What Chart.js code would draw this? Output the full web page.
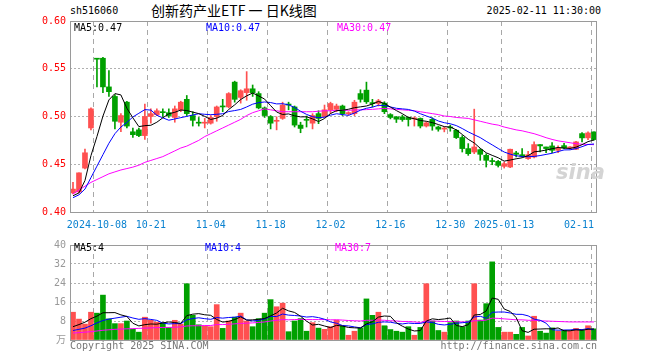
<!DOCTYPE html>
<html>
<head>
<meta charset="utf-8">
<script src="https://cdn.jsdelivr.net/npm/chart.js@4.4.1/dist/chart.umd.min.js"></script>
<style>
  body { margin: 0; background: #fff; width: 660px; height: 360px; position: relative; overflow: hidden;
         font-family: "DejaVu Sans Mono", monospace; font-size: 10px; }
  .txt { position: absolute; white-space: nowrap; line-height: 12px; }
  canvas { position: absolute; left: 0; }
</style>
</head>
<body>
<div class="txt" style="left:70px;top:5px;color:#000">sh516060</div>
<div class="txt" style="left:151px;top:2px;font:14px 'Noto Sans CJK SC';line-height:16px;color:#000">创新药产业ETF 一 日K线图</div>
<div class="txt" style="right:59px;top:5px;color:#000">2025-02-11 11:30:00</div>

<canvas id="priceChart" width="660" height="235" style="top:0"></canvas>
<canvas id="volumeChart" width="660" height="125" style="top:235px"></canvas>

<div class="txt" style="left:74px;top:22px;color:#000">MA5:0.47</div>
<div class="txt" style="left:206px;top:22px;color:#0000ff">MA10:0.47</div>
<div class="txt" style="left:337px;top:22px;color:#ff00ff">MA30:0.47</div>
<div class="txt" style="left:74px;top:242px;color:#000">MA5:4</div>
<div class="txt" style="left:205px;top:242px;color:#0000ff">MA10:4</div>
<div class="txt" style="left:335px;top:242px;color:#ff00ff">MA30:7</div>
<div class="txt" style="left:556px;top:160px;font:italic bold 21px 'DejaVu Sans';color:#d4d4d4;line-height:24px">sina</div>
<div class="txt" style="left:70px;top:340px;color:#777">Copyright 2025 SINA.COM</div>
<div class="txt" style="right:63px;top:340px;color:#777">http://finance.sina.com.cn</div>

<script>
// Trading days shown on the chart
const dates = [
  '2024-09-25','2024-09-26','2024-09-27','2024-09-30',
  '2024-10-08','2024-10-09','2024-10-10','2024-10-11','2024-10-14','2024-10-15','2024-10-16','2024-10-17','2024-10-18',
  '2024-10-21','2024-10-22','2024-10-23','2024-10-24','2024-10-25','2024-10-28','2024-10-29','2024-10-30','2024-10-31',
  '2024-11-01','2024-11-04','2024-11-05','2024-11-06','2024-11-07','2024-11-08','2024-11-11','2024-11-12','2024-11-13',
  '2024-11-14','2024-11-15','2024-11-18','2024-11-19','2024-11-20','2024-11-21','2024-11-22','2024-11-25','2024-11-26',
  '2024-11-27','2024-11-28','2024-11-29',
  '2024-12-02','2024-12-03','2024-12-04','2024-12-05','2024-12-06','2024-12-09','2024-12-10','2024-12-11','2024-12-12',
  '2024-12-13','2024-12-16','2024-12-17','2024-12-18','2024-12-19','2024-12-20','2024-12-23','2024-12-24','2024-12-25',
  '2024-12-26','2024-12-27','2024-12-30','2024-12-31',
  '2025-01-02','2025-01-03','2025-01-06','2025-01-07','2025-01-08','2025-01-09','2025-01-10','2025-01-13','2025-01-14',
  '2025-01-15','2025-01-16','2025-01-17','2025-01-20','2025-01-21','2025-01-22','2025-01-23','2025-01-24','2025-01-27',
  '2025-02-05','2025-02-06','2025-02-07','2025-02-10','2025-02-11'
];

// Dates that get a label and a dashed grid line
const tickDates = ['2024-10-08','2024-10-21','2024-11-04','2024-11-18','2024-12-02','2024-12-16','2024-12-30','2025-01-13','2025-02-11'];
const tickTexts = ['2024-10-08','10-21','11-04','11-18','12-02','12-16','12-30','2025-01-13','02-11     '];

// Daily OHLC
const opens = [
  0.420,0.421,0.446,0.488,0.5605,0.561,0.531,0.521,0.494,0.515,
  0.484,0.486,0.480,0.500,0.502,0.505,0.504,0.499,0.507,0.518,
  0.501,0.4935,0.493,0.493,0.500,0.5105,0.510,0.536,0.520,0.525,
  0.529,0.524,0.509,0.500,0.495,0.498,0.5125,0.510,0.491,0.4965,
  0.493,0.503,0.500,0.507,0.5075,0.511,0.503,0.503,0.524,0.5276,
  0.514,0.5136,0.514,0.502,0.4996,0.4996,0.499,0.4975,0.498,0.490,
  0.497,0.489,0.4868,0.4885,0.4856,0.478,0.4664,0.4628,0.4653,0.4593,
  0.4533,0.453,0.4478,0.4471,0.4618,0.460,0.4559,0.4576,0.4706,0.4681,
  0.4692,0.4646,0.4695,0.4671,0.4657,0.4821,0.4776,0.4839
];
const highs = [
  0.431,0.441,0.466,0.509,0.561,0.562,0.548,0.523,0.503,0.516,
  0.488,0.488,0.513,0.508,0.508,0.508,0.508,0.511,0.516,0.522,
  0.505,0.499,0.498,0.501,0.511,0.518,0.525,0.537,0.528,0.547,
  0.533,0.526,0.510,0.501,0.4997,0.515,0.515,0.511,0.494,0.5005,
  0.503,0.506,0.512,0.515,0.513,0.512,0.505,0.517,0.528,0.536,
  0.518,0.518,0.5155,0.503,0.500,0.5014,0.4996,0.4996,0.4985,0.4944,
  0.4986,0.490,0.489,0.491,0.4863,0.480,0.4716,0.5077,0.4663,0.461,
  0.4565,0.454,0.4523,0.466,0.4636,0.4664,0.4636,0.4734,0.4706,0.4681,
  0.4727,0.4692,0.472,0.4685,0.474,0.4832,0.4839,0.4839
];
const lows = [
  0.419,0.420,0.445,0.486,0.531,0.525,0.521,0.487,0.484,0.488,
  0.478,0.479,0.476,0.493,0.501,0.500,0.499,0.494,0.505,0.501,
  0.490,0.490,0.488,0.492,0.495,0.505,0.509,0.515,0.514,0.517,
  0.521,0.508,0.499,0.487,0.486,0.497,0.507,0.489,0.483,0.489,
  0.487,0.4925,0.499,0.503,0.505,0.501,0.5015,0.501,0.515,0.5136,
  0.510,0.511,0.503,0.4975,0.4937,0.495,0.490,0.490,0.488,0.489,
  0.4856,0.4846,0.4839,0.4846,0.4769,0.4628,0.4593,0.4611,0.4541,0.4471,
  0.4495,0.4471,0.446,0.4464,0.4576,0.4576,0.455,0.4566,0.4629,0.4622,
  0.4622,0.4622,0.4664,0.4657,0.4653,0.4734,0.4758,0.4751
];
const closes = [
  0.424,0.441,0.462,0.508,0.560,0.531,0.526,0.495,0.501,0.490,
  0.481,0.480,0.500,0.503,0.506,0.504,0.501,0.508,0.515,0.503,
  0.496,0.493,0.4935,0.499,0.510,0.510,0.524,0.518,0.527,0.529,
  0.525,0.509,0.501,0.493,0.4955,0.512,0.512,0.491,0.4875,0.496,
  0.501,0.498,0.507,0.5136,0.511,0.503,0.5035,0.515,0.518,0.5154,
  0.5135,0.5164,0.505,0.499,0.4972,0.4968,0.4968,0.498,0.490,0.4933,
  0.490,0.4867,0.4872,0.488,0.4779,0.4664,0.4611,0.4681,0.4604,0.4541,
  0.4528,0.4488,0.4506,0.4657,0.4604,0.4583,0.460,0.4706,0.4692,0.4664,
  0.4646,0.4671,0.4671,0.4674,0.4734,0.4776,0.4828,0.4758
];

// Price moving averages as drawn
const priceMa5 = [
  0.417,0.420,0.433,0.459,0.479,0.5004,0.5174,0.524,0.5226,0.5086,
  0.4986,0.4894,0.4904,0.4908,0.494,0.4986,0.5028,0.5044,0.5068,0.5062,
  0.5046,0.503,0.5001,0.4969,0.4983,0.5011,0.5073,0.5122,0.5178,0.5216,
  0.5246,0.5216,0.5182,0.5114,0.5047,0.5021,0.5027,0.5007,0.4996,0.4997,
  0.4975,0.4947,0.4979,0.5031,0.5061,0.5065,0.5076,0.5092,0.5101,0.511,
  0.5131,0.5157,0.5137,0.5099,0.5062,0.5029,0.499,0.4976,0.4958,0.495,
  0.4936,0.4916,0.4894,0.489,0.486,0.4812,0.4761,0.4723,0.4668,0.462,
  0.4593,0.4568,0.4533,0.4544,0.4557,0.4568,0.459,0.463,0.4637,0.4649,
  0.4662,0.4676,0.4669,0.4665,0.4679,0.4705,0.4737,0.4754
];
const priceMa10 = [
  0.415,0.418,0.424,0.436,0.448,0.460,0.472,0.482,0.489,0.4938,
  0.4995,0.5034,0.5072,0.5067,0.5013,0.4986,0.4961,0.4974,0.4988,0.5001,
  0.5016,0.5029,0.5023,0.5019,0.5023,0.5029,0.5052,0.5062,0.5074,0.510,
  0.5129,0.5145,0.5152,0.5146,0.5132,0.5134,0.5122,0.5095,0.5055,0.5022,
  0.4998,0.4987,0.4993,0.5014,0.5029,0.502,0.5012,0.5036,0.5066,0.5086,
  0.5098,0.5117,0.5115,0.510,0.5086,0.508,0.5074,0.5057,0.5029,0.5006,
  0.4983,0.4953,0.4935,0.4924,0.4905,0.4874,0.4839,0.4809,0.4779,0.474,
  0.4703,0.4665,0.4628,0.4606,0.4589,0.4581,0.4579,0.4582,0.4591,0.4603,
  0.4615,0.4633,0.465,0.4651,0.4664,0.4684,0.4707,0.4712
];
const priceMa30 = [
  0.419,0.423,0.427,0.431,0.434,0.437,0.440,0.442,0.444,0.4455,
  0.447,0.449,0.452,0.454,0.456,0.458,0.461,0.464,0.467,0.469,
  0.472,0.475,0.479,0.482,0.485,0.488,0.491,0.494,0.497,0.501,
  0.504,0.506,0.508,0.507,0.506,0.505,0.505,0.505,0.505,0.505,
  0.505,0.5055,0.506,0.506,0.5065,0.5065,0.5065,0.5068,0.507,0.5072,
  0.5075,0.508,0.5085,0.508,0.5075,0.507,0.5065,0.506,0.505,0.504,
  0.503,0.502,0.5005,0.500,0.499,0.4985,0.498,0.4965,0.495,0.4935,
  0.492,0.491,0.489,0.4875,0.486,0.485,0.4835,0.482,0.480,0.4778,
  0.476,0.4745,0.4735,0.4725,0.4715,0.471,0.4707,0.4705
];

// Volume (万手) and its moving averages
const volumes = [
  11.7,8.8,6.7,11.7,11.3,18.9,8.9,6.9,6.9,8.0,
  4.5,3.3,9.6,8.3,7.5,7.3,5.3,8.3,6.7,23.7,
  10.4,6.4,5.9,5.6,14.9,4.9,8.0,9.6,11.3,8.0,
  5.6,9.0,11.3,17.0,14.0,15.5,3.5,8.0,9.0,3.7,
  7.3,5.0,4.5,5.6,8.4,5.9,2.0,3.7,5.1,17.3,
  10.4,11.7,6.0,4.4,3.7,3.3,5.6,2.0,5.3,23.7,
  8.0,4.0,3.3,7.3,8.0,5.6,8.0,23.7,8.4,15.3,
  32.9,5.3,3.3,3.3,2.4,5.3,1.7,10.0,3.7,2.9,
  5.1,3.7,4.0,3.7,4.9,4.0,6.0,4.7
];
const volMa5 = [
  5.6,6.5,7.5,9.0,10.04,11.48,11.5,11.54,10.58,9.92,
  7.04,5.92,6.46,6.74,6.64,7.2,7.6,7.34,7.02,10.26,
  10.88,11.1,10.62,10.4,8.64,7.54,7.86,8.6,9.74,8.36,
  8.5,8.7,9.04,10.18,11.38,13.36,12.26,11.6,10,7.94,
  6.3,6.6,5.9,5.22,6.16,5.88,5.28,5.12,5.02,6.8,
  7.7,9.64,10.1,9.96,7.24,5.82,4.6,3.8,3.98,7.98,
  8.92,8.6,8.86,9.26,6.12,5.64,6.44,10.52,10.74,12.2,
  17.66,17.12,13.04,12.02,9.44,3.92,3.2,4.54,4.62,4.72,
  4.68,5.08,3.88,3.88,4.28,4.06,4.52,4.66
];
const volMa10 = [
  4.0,4.5,5.0,6.0,7.2,8.2,8.8,9.2,9.6,9.98,
  9.26,8.71,9.0,8.66,8.28,7.12,6.76,6.9,6.88,8.45,
  9.04,9.35,8.98,8.71,9.45,9.21,9.48,9.61,10.07,8.5,
  8.02,8.28,8.82,9.96,9.87,10.93,10.48,10.32,10.09,9.66,
  9.83,9.43,8.75,7.61,7.05,6.09,5.94,5.51,5.12,6.48,
  6.79,7.46,7.61,7.49,7.02,6.76,7.12,6.95,6.97,7.61,
  7.37,6.6,6.33,6.62,7.05,7.28,7.52,9.69,10.0,9.16,
  11.65,11.78,11.78,11.38,10.82,10.79,10.16,8.79,8.32,7.08,
  4.3,4.14,4.21,4.25,4.5,4.37,4.8,4.27
];
const volMa30 = [
  2.9,3.1,3.3,3.5,3.8,4.1,4.3,4.5,4.6,4.7,
  4.8,4.9,5.0,5.1,5.2,5.3,5.3,5.4,5.5,5.9,
  6.0,6.0,6.1,6.1,6.5,6.5,6.6,6.8,7.0,7.1,
  7.2,7.4,7.6,8.0,8.3,8.6,8.5,8.6,8.7,8.6,
  8.6,8.6,8.6,8.5,8.5,8.4,8.2,8.1,8.0,8.3,
  8.3,8.4,8.3,8.1,8.0,7.8,7.8,7.6,7.4,8.0,
  8.0,7.9,7.8,7.8,7.7,7.6,7.6,8.1,8.1,8.4,
  9.2,9.1,8.9,8.7,8.5,8.5,8.3,8.3,8.1,8.0,
  7.9,7.8,7.7,7.6,7.6,7.6,7.6,7.6
];

const UP = '#ff5050';
const DOWN = '#00a000';
const MONO = '"DejaVu Sans Mono", "Noto Sans CJK SC", monospace';

// Red when the day closes at or above its open, green otherwise
const candleColor = ctx => (closes[ctx.dataIndex] >= opens[ctx.dataIndex] ? UP : DOWN);
const isTick = i => tickDates.includes(dates[i]);

// Dashed vertical grid lines only at the labelled dates
function dateGrid() {
  return {
    offset: true,
    drawTicks: false,
    color: '#a8a8a8',
    lineWidth: ctx => (ctx.index < dates.length && isTick(ctx.index) ? 1 : 0)
  };
}

// Grey box around each panel
const frame = {
  id: 'frame',
  afterDraw(chart) {
    const { ctx, chartArea: a } = chart;
    ctx.save();
    ctx.strokeStyle = '#9a9a9a';
    ctx.lineWidth = 1;
    ctx.setLineDash([]);
    ctx.strokeRect(a.left + 0.5, a.top + 0.5, a.right - a.left - 1, a.bottom - a.top);
    ctx.restore();
  }
};

function maLine(data, color, axis) {
  return {
    type: 'line', data: data, yAxisID: axis, borderColor: color, borderWidth: 1,
    pointRadius: 0, tension: 0, order: 0
  };
}

// Candlestick panel: floating bars for wicks and bodies, lines for MAs
new Chart(document.getElementById('priceChart'), {
  type: 'bar',
  data: {
    labels: dates,
    datasets: [
      { data: lows.map((l, i) => [l, highs[i]]), backgroundColor: candleColor, barThickness: 1, grouped: false, order: 2 },
      { data: opens.map((o, i) => [o, closes[i]]), backgroundColor: candleColor, barThickness: 5, minBarLength: 1, grouped: false, order: 1 },
      maLine(priceMa5, '#000000', 'y'),
      maLine(priceMa10, '#0000ff', 'y'),
      maLine(priceMa30, '#ff00ff', 'y')
    ]
  },
  options: {
    responsive: false,
    animation: false,
    devicePixelRatio: 1,
    layout: { padding: { top: 21, right: 63, left: 0, bottom: 0 } },
    plugins: { legend: { display: false }, tooltip: { enabled: false } },
    scales: {
      x: {
        offset: true,
        grid: dateGrid(),
        border: { display: false, dash: [5, 4] },
        ticks: {
          autoSkip: false, maxRotation: 0, padding: 7, color: '#0a82d0',
          font: { family: MONO, size: 10 },
          callback: (v, i) => (isTick(i) ? tickTexts[tickDates.indexOf(dates[i])] : '')
        },
        afterFit: s => { s.height = 23; }
      },
      y: {
        min: 0.40, max: 0.60,
        ticks: { stepSize: 0.05, padding: 4, color: '#ff0000', font: { family: MONO, size: 10 },
                 callback: v => v.toFixed(2) },
        grid: { color: '#b0b0b0', drawTicks: false },
        border: { display: false, dash: [2, 2] },
        afterFit: s => { s.width = 70; }
      }
    }
  },
  plugins: [frame]
});

// Volume panel
new Chart(document.getElementById('volumeChart'), {
  type: 'bar',
  data: {
    labels: dates,
    datasets: [
      { data: volumes, backgroundColor: candleColor, barThickness: 5, grouped: false, order: 1 },
      maLine(volMa5, '#000000', 'y'),
      maLine(volMa10, '#0000ff', 'y'),
      maLine(volMa30, '#ff00ff', 'y')
    ]
  },
  options: {
    responsive: false,
    animation: false,
    devicePixelRatio: 1,
    layout: { padding: { top: 5, right: 63, left: 0, bottom: 0 } },
    plugins: { legend: { display: false }, tooltip: { enabled: false } },
    scales: {
      x: {
        offset: true,
        grid: dateGrid(),
        border: { display: false, dash: [5, 4] },
        ticks: { display: false },
        afterFit: s => { s.height = 20; }
      },
      y: {
        min: 0, max: 40,
        ticks: { stepSize: 8, padding: 4, color: '#999999', font: { family: MONO, size: 10 },
                 callback: v => (v === 0 ? '万' : v) },
        grid: { color: '#b0b0b0', drawTicks: false },
        border: { display: false, dash: [2, 2] },
        afterFit: s => { s.width = 70; }
      }
    }
  },
  plugins: [frame]
});
</script>
</body>
</html>
